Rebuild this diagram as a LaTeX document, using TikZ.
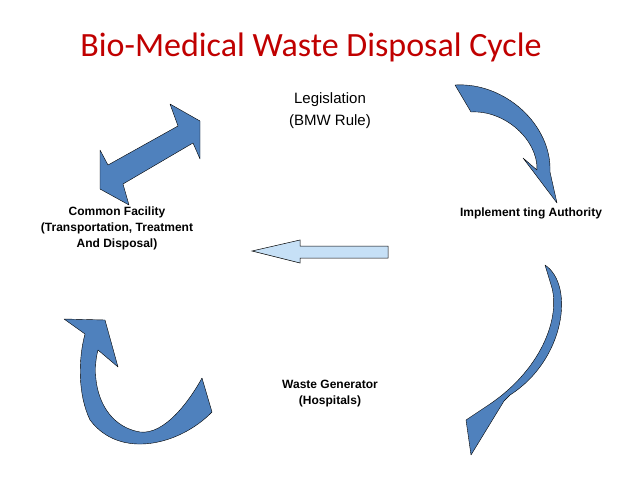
\documentclass[tikz,border=0pt]{standalone}
\usepackage{fontspec}
\setmainfont{Liberation Sans}
\newfontfamily\titlefont{Carlito}
\definecolor{cycleblue}{RGB}{79,129,189}
\definecolor{paleblue}{RGB}{198,224,246}
\definecolor{titlered}{RGB}{192,0,0}
\begin{document}
\begin{tikzpicture}[x=1pt,y=-1pt,
		bigarrow/.style={fill=cycleblue,draw=black,line width=0.4pt,line join=round},
		flatarrow/.style={fill=paleblue,draw=black,line width=0.5pt},
		stage/.style={font=\bfseries\fontsize{12}{16}\selectfont,align=center}]
		
		\useasboundingbox (0,0) rectangle (638,479);
		
		\node[font=\titlefont\fontsize{34}{40}\selectfont,text=titlered] (title) at (311,47) {Bio-Medical Waste Disposal Cycle};
		\node[font=\fontsize{15}{22}\selectfont,align=center] (law) at (330,111) {Legislation\\(BMW Rule)};
		\node[stage] (authority) at (531,213) {Implement ting Authority};
		\node[stage] (generator) at (330,394) {Waste Generator\\(Hospitals)};
		\node[stage] (facility) at (117,228) {Common Facility\\(Transportation, Treatment\\And Disposal)};
		
		% double arrow legislation <-> facility
		\draw[bigarrow] (100,150) -- (108,165) -- (178,126) -- (170,104) -- (200,121)
			-- (200,159) -- (193,143) -- (123,184) -- (129,205) -- (100,189) -- cycle;
		
		% legislation -> authority
		\draw[bigarrow] (455,85) .. controls (505,82) and (552,125) .. (550,172)
			-- (557,203) -- (523,158) -- (537,170)
			.. controls (538,140) and (505,110) .. (471,112) -- cycle;
		
		% authority -> generator
		\draw[bigarrow] (545,265) .. controls (575,285) and (565,360) .. (510,395)
			-- (504,401) -- (471,455) -- (466,420) -- (490,404)
			.. controls (540,370) and (560,320) .. (552,288) -- cycle;
		
		% generator -> facility
		\draw[bigarrow] (202,378) -- (212,412) .. controls (180,445) and (120,460) .. (90,420)
			.. controls (78,395) and (78,360) .. (85,334) -- (64,319) -- (105,320)
			-- (118,367) -- (98,350)
			.. controls (90,380) and (100,425) .. (140,432)
			.. controls (165,435) and (190,400) .. cycle;
		
		% authority -> facility
		\draw[flatarrow] (388,246) -- (300,246) -- (300,240) -- (252,251) -- (300,263)
			-- (300,258) -- (388,258) -- cycle;
		\end{tikzpicture}
\end{document}
